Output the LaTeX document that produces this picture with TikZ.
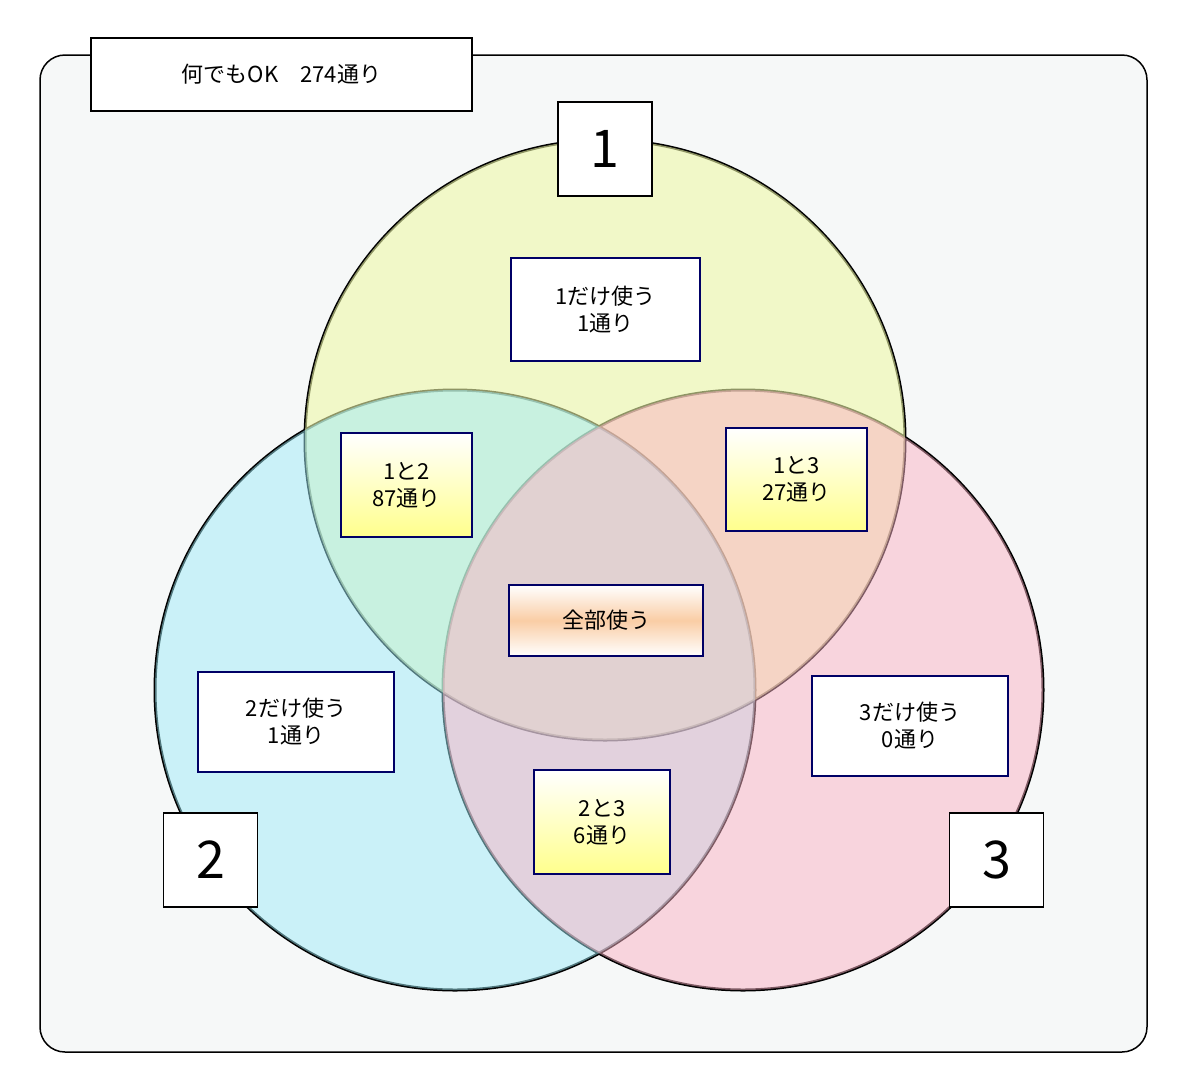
\documentclass[tikz,border=0pt]{standalone}
\usepackage{fontspec}
\setmainfont{Noto Sans CJK JP}
\definecolor{bgc}{RGB}{246,248,248}
\definecolor{cy}{RGB}{238,248,168}
\definecolor{cc}{RGB}{160,236,248}
\definecolor{cp}{RGB}{250,178,196}
\definecolor{peach}{RGB}{250,205,165}
\begin{document}
\begin{tikzpicture}[x=1pt,y=-1pt,
  lbl/.style={draw=blue!40!black,line width=1.2pt,fill=white,align=center,inner sep=0pt,font=\fontsize{22}{27}\selectfont},
  ylbl/.style={lbl,top color=white,bottom color=yellow!45!white},
  num/.style={draw=black,line width=1.5pt,fill=white,minimum width=94pt,minimum height=94pt,inner sep=0pt,font=\fontsize{52}{52}\selectfont}]
\useasboundingbox (0,0) rectangle (1200,1088);
\fill[white] (0,0) rectangle (1200,1088);
\draw[line width=1.5pt,fill=bgc,rounded corners=25pt] (40,55) rectangle (1147,1052);
\node[draw=black,line width=2pt,fill=white,minimum width=381pt,minimum height=73pt,inner sep=0pt,font=\fontsize{22}{27}\selectfont] (title) at (281.5,74.5) {何でもOK　274通り};
\coordinate (c1) at (605,440);
\coordinate (c2) at (455,690);
\coordinate (c3) at (743,690);
\draw[line width=3pt] (c1) circle (300) (c2) circle (300) (c3) circle (300);
\fill[cy,fill opacity=0.6] (c1) circle (300);
\fill[cc,fill opacity=0.5] (c2) circle (300);
\fill[cp,fill opacity=0.5] (c3) circle (300);
\node[num] (n1) at (605,149) {1};
\node[num] (n2) at (210.5,860) {2};
\node[num] (n3) at (996.5,860) {3};
\node[lbl,minimum width=189pt,minimum height=103pt] (a1) at (605.5,309.5) {1だけ使う\\1通り};
\node[ylbl,minimum width=131pt,minimum height=104pt] (a12) at (406.5,485) {1と2\\87通り};
\node[ylbl,minimum width=141pt,minimum height=103pt] (a13) at (796.5,479.5) {1と3\\27通り};
\node[lbl,minimum width=194pt,minimum height=71pt,top color=white,bottom color=white,middle color=peach] (all) at (606,620.5) {全部使う};
\node[lbl,minimum width=196pt,minimum height=100pt] (a2) at (296,722) {2だけ使う\\1通り};
\node[lbl,minimum width=196pt,minimum height=100pt] (a3) at (910,726) {3だけ使う\\0通り};
\node[ylbl,minimum width=136pt,minimum height=104pt] (a23) at (602,822) {2と3\\6通り};
\end{tikzpicture}
\end{document}
